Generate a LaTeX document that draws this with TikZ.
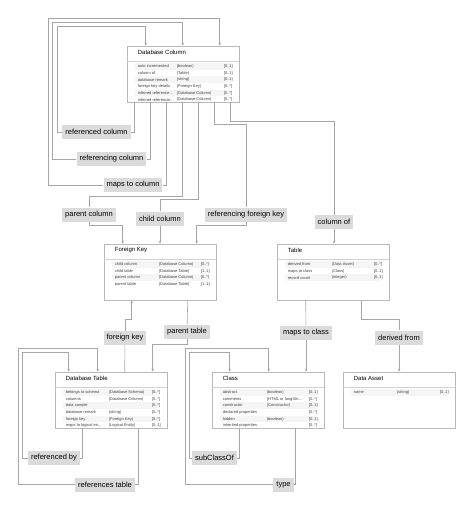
\documentclass[tikz,border=0pt]{standalone}
\usepackage{fontspec}
\setmainfont{Liberation Sans}
\usetikzlibrary{calc}
\usetikzlibrary{positioning}
\usetikzlibrary{arrows.meta}
\tikzstyle{entity} = [draw=gray!55, fill=white, minimum width=112pt, minimum height=56pt, inner sep=0pt, line width=0.6pt]
\tikzstyle{entitytitle} = [anchor=west, inner sep=0pt, font=\fontsize{6}{7}\selectfont]
\tikzstyle{cell} = [anchor=west, inner sep=0pt, text=black!75, font=\fontsize{4}{5}\selectfont]
\tikzstyle{rolebox} = [fill=gray!28, inner xsep=3pt, inner ysep=0pt, minimum height=14pt, font=\fontsize{7.5}{9}\selectfont]
\tikzstyle{link} = [draw=gray!70, line width=0.6pt]
\tikzstyle{linkarrow} = [link, -{Stealth[length=3pt,width=2.6pt]}]
% title and separator of an entity box
\newcommand{\entityhead}[2]{%
  \node[entitytitle] (#1-title) at ($(#1.north west)+(11,6.5)$) {#2};
  \draw[gray!35, line width=0.5pt] ($(#1.north west)+(0,15.5)$) -- ($(#1.north east)+(0,15.5)$);
}
% one attribute row: box, index, type column, name, type, multiplicity
\newcommand{\entityrow}[6]{%
  \ifodd#2
    \fill[gray!8] ($(#1.north west)+(8,{17.4+6.65*(#2-1)})$) rectangle ($(#1.north east)+(-8,{24+6.65*(#2-1)})$);
  \fi
  \node[cell] (#1-n#2) at ($(#1.north west)+(11,{20.7+6.65*(#2-1)})$) {#4};
  \node[cell] (#1-t#2) at ($(#1.north west)+(#3,{20.7+6.65*(#2-1)})$) {#5};
  \node[cell] (#1-m#2) at ($(#1.north west)+(97,{20.7+6.65*(#2-1)})$) {#6};
}
\begin{document}
\begin{tikzpicture}[x=1pt, y=-1pt]
    \useasboundingbox (0,0) rectangle (474,511);

    % entity boxes
    \node[entity] (dc) at (183,74) {};
    \node[entity] (fk) at (160,272) {};
    \node[entity] (tab) at (333,272) {};
    \node[entity] (dt) at (111,400) {};
    \node[entity] (cls) at (268,400) {};
    \node[entity] (da) at (399,400) {};

    \entityhead{dc}{Database Column}
    \entityrow{dc}{1}{50}{auto incremented}{(boolean)}{[0..1]}
    \entityrow{dc}{2}{50}{column of}{(Table)}{[0..1]}
    \entityrow{dc}{3}{50}{database remark}{(string)}{[0..1]}
    \entityrow{dc}{4}{50}{foreign key details}{(Foreign Key)}{[0..*]}
    \entityrow{dc}{5}{50}{inferred reference...}{(Database Column)}{[0..*]}
    \entityrow{dc}{6}{50}{inferred referencin...}{(Database Column)}{[0..*]}

    \entityhead{fk}{Foreign Key}
    \entityrow{fk}{1}{55}{child column}{(Database Column)}{[0..*]}
    \entityrow{fk}{2}{55}{child table}{(Database Table)}{[1..1]}
    \entityrow{fk}{3}{55}{parent column}{(Database Column)}{[0..*]}
    \entityrow{fk}{4}{55}{parent table}{(Database Table)}{[1..1]}

    \entityhead{tab}{Table}
    \entityrow{tab}{1}{55}{derived from}{(Data Asset)}{[0..*]}
    \entityrow{tab}{2}{55}{maps to class}{(Class)}{[0..1]}
    \entityrow{tab}{3}{55}{record count}{(integer)}{[0..1]}

    \entityhead{dt}{Database Table}
    \entityrow{dt}{1}{54}{belongs to schema}{(Database Schema)}{[0..*]}
    \entityrow{dt}{2}{54}{columns}{(Database Column)}{[0..*]}
    \entityrow{dt}{3}{54}{data sample}{}{[0..*]}
    \entityrow{dt}{4}{54}{database remark}{(string)}{[0..*]}
    \entityrow{dt}{5}{54}{foreign key}{(Foreign Key)}{[0..*]}
    \entityrow{dt}{6}{54}{maps to logical en...}{(Logical Entity)}{[0..1]}

    \entityhead{cls}{Class}
    \entityrow{cls}{1}{55}{abstract}{(boolean)}{[0..1]}
    \entityrow{cls}{2}{55}{comments}{(HTML or langStri...}{[0..*]}
    \entityrow{cls}{3}{55}{constructor}{(Constructor)}{[0..1]}
    \entityrow{cls}{4}{55}{declared properties}{}{[0..*]}
    \entityrow{cls}{5}{55}{hidden}{(boolean)}{[0..1]}
    \entityrow{cls}{6}{55}{inherited properties}{}{[0..*]}

    \entityhead{da}{Data Asset}
    \entityrow{da}{1}{54}{name}{(string)}{[0..1]}

    % role labels
    \node[rolebox] (refcol) at (96.5,132) {referenced column};
    \node[rolebox] (refingcol) at (111.5,159) {referencing column};
    \node[rolebox] (mapscol) at (133,185) {maps to column};
    \node[rolebox] (parcol) at (89,214.5) {parent column};
    \node[rolebox] (childcol) at (160,218.5) {child column};
    \node[rolebox] (reffk) at (246,214.5) {referencing foreign key};
    \node[rolebox] (colof) at (334,222) {column of};
    \node[rolebox] (fkey) at (125,338) {foreign key};
    \node[rolebox] (partab) at (187,332) {parent table};
    \node[rolebox] (mapscls) at (306,333) {maps to class};
    \node[rolebox] (derfrom) at (399,337.5) {derived from};
    \node[rolebox] (refby) at (54,458) {referenced by};
    \node[rolebox] (reftab) at (105,484.5) {references table};
    \node[rolebox] (subcls) at (214.5,458) {subClassOf};
    \node[rolebox] (typ) at (283.5,484.5) {type};

    % Database Column links
    \draw[link] ($(dc.south west)+(8,0)$) |- (refcol);
    \draw[linkarrow] (refcol) -| ($(dc.north west)+(-69,-19)$) -| ($(dc.north west)+(19,0)$);
    \draw[link] ($(dc.south west)+(24,0)$) |- (refingcol);
    \draw[linkarrow] (refingcol) -| ($(dc.north west)+(-74,-23)$) -| ($(dc.north west)+(56,0)$);
    \draw[link] ($(dc.south west)+(40,0)$) |- (mapscol);
    \draw[linkarrow] (mapscol) -| ($(dc.north west)+(-78,-27)$) -| ($(dc.north west)+(93,0)$);
    \draw[link] ($(dc.south west)+(56,0)$) -- ++(0,94) -| (parcol);
    \draw[linkarrow] (parcol) |- ($(fk.north west)+(19,-18)$) -- ($(fk.north west)+(19,0)$);
    \draw[link] ($(dc.south west)+(72,0)$) -- ++(0,97) -| (childcol);
    \draw[linkarrow] (childcol) -- (childcol |- fk.north);
    \draw[link] ($(dc.south west)+(88,0)$) -- ++(0,22) -| (reffk);
    \draw[linkarrow] (reffk) |- ($(fk.north west)+(93,-18)$) -- ($(fk.north west)+(93,0)$);
    \draw[link] ($(dc.south west)+(104,0)$) -- ++(0,19) -| (colof);
    \draw[linkarrow] (colof) -- (colof |- tab.north);

    % Foreign Key and Table links
    \draw[link] ($(dt.north west)+(70,0)$) -- (fkey);
    \draw[linkarrow] (fkey) |- ($(fk.south west)+(28,19)$) -- ($(fk.south west)+(28,0)$);
    \draw[link] ($(fk.south west)+(84,0)$) -- (partab);
    \draw[linkarrow] (partab) |- ($(dt.north west)+(98,-27)$) -- ($(dt.north west)+(98,0)$);
    \draw[link] ($(tab.south west)+(29,0)$) -- (mapscls);
    \draw[linkarrow] (mapscls) -- (mapscls |- cls.north);
    \draw[link] ($(tab.south west)+(85,0)$) -- ++(0,19) -| (derfrom);
    \draw[linkarrow] (derfrom) -- (derfrom |- da.north);

    % self links
    \draw[link] ($(dt.south west)+(28,0)$) |- (refby);
    \draw[linkarrow] (refby) -| ($(dt.north west)+(-32,-19)$) -| ($(dt.north west)+(14,0)$);
    \draw[link] ($(dt.south west)+(84,0)$) |- (reftab);
    \draw[linkarrow] (reftab) -| ($(dt.north west)+(-36,-23)$) -| ($(dt.north west)+(43,0)$);
    \draw[link] ($(cls.south west)+(28,0)$) |- (subcls);
    \draw[linkarrow] (subcls) -| ($(cls.north west)+(-22,-19)$) -| ($(cls.north west)+(18,0)$);
    \draw[link] ($(cls.south west)+(84,0)$) |- (typ);
    \draw[linkarrow] (typ) -| ($(cls.north west)+(-26,-23)$) -| ($(cls.north west)+(57,0)$);
\end{tikzpicture}
\end{document}
